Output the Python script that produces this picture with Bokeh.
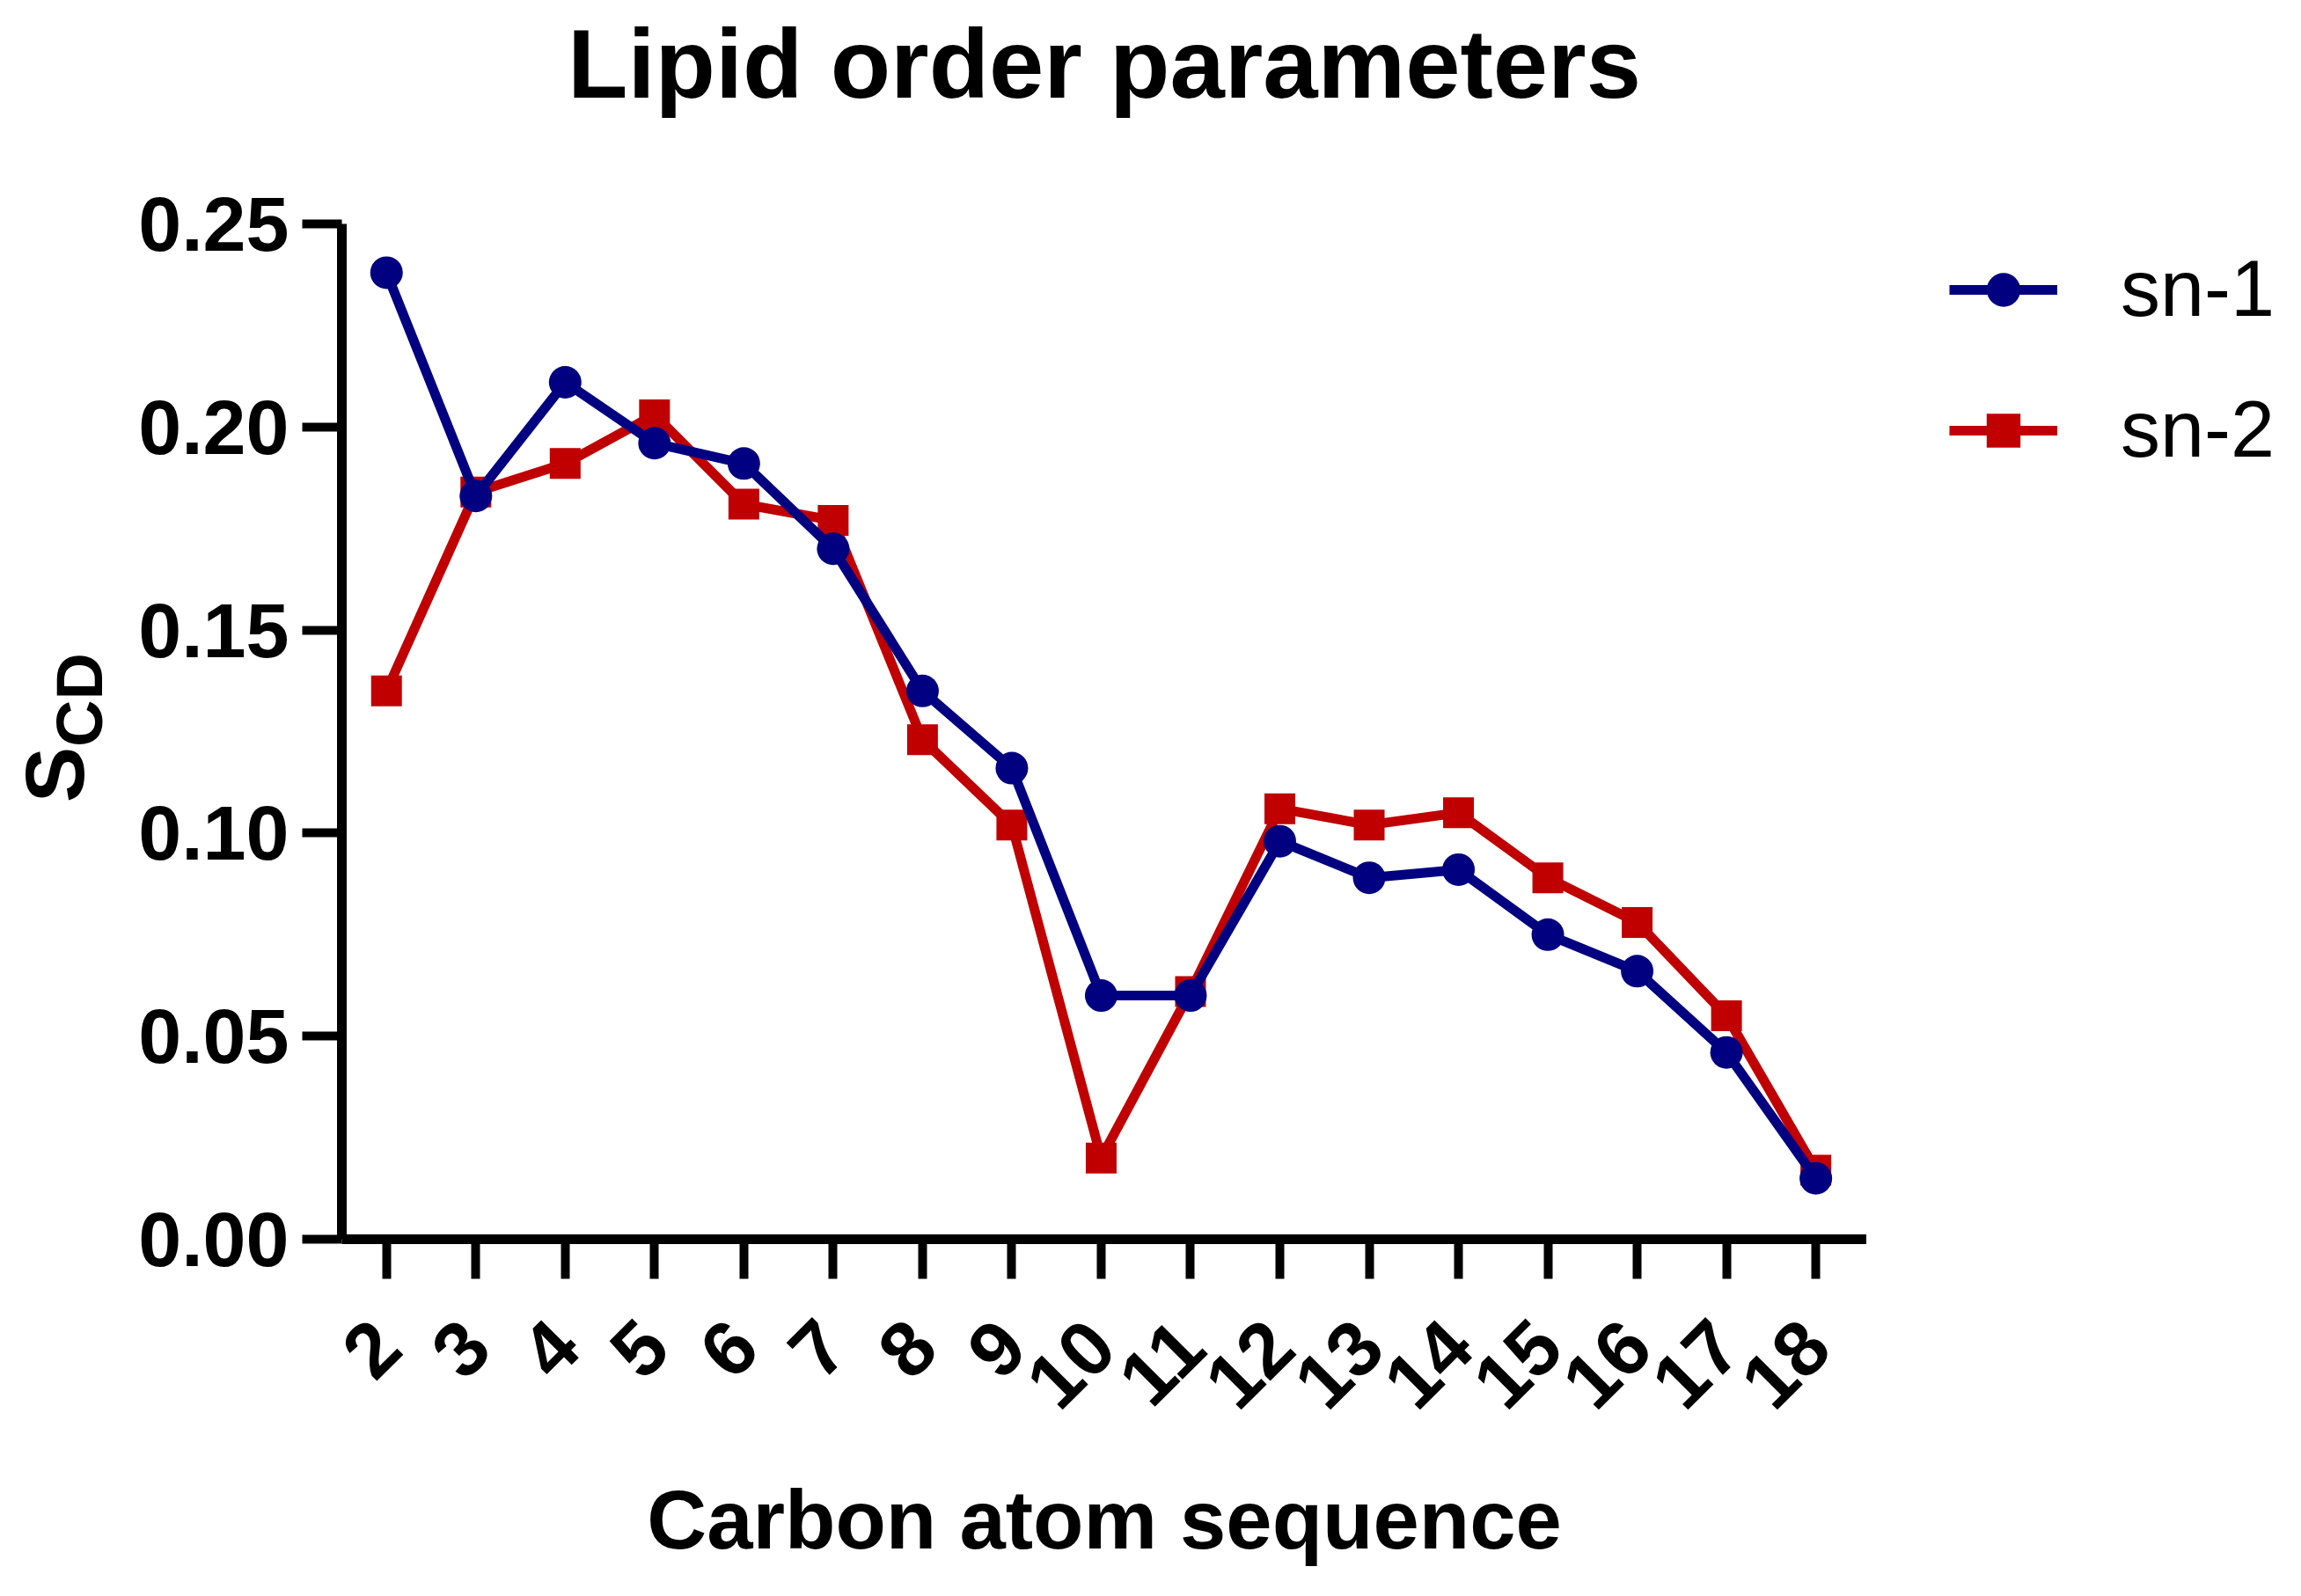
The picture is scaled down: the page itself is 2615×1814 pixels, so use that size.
import math
from bokeh.plotting import figure
from bokeh.layouts import row
from bokeh.models import (ColumnDataSource, FixedTicker, Legend, LegendItem,
                          Label, Range1d)
from bokeh.core.properties import value
from bokeh.embed import file_html
from bokeh.resources import INLINE

# ---------------- data ----------------
carbons = [2, 3, 4, 5, 6, 7, 8, 9, 10, 11, 12, 13, 14, 15, 16, 17, 18]
sn1 = [0.238, 0.183, 0.211, 0.196, 0.191, 0.170, 0.135, 0.116, 0.060, 0.060,
       0.098, 0.089, 0.091, 0.075, 0.066, 0.046, 0.015]
sn2 = [0.135, 0.184, 0.191, 0.203, 0.181, 0.177, 0.123, 0.102, 0.020, 0.061,
       0.106, 0.102, 0.105, 0.089, 0.078, 0.055, 0.017]
y_ticks = [0.0, 0.05, 0.10, 0.15, 0.20, 0.25]
y_tick_labels = ["0.00", "0.05", "0.10", "0.15", "0.20", "0.25"]
series_names = ["sn-1", "sn-2"]
title_text = "Lipid order parameters"
x_label = "Carbon atom sequence"
y_label_main = "S"
y_label_sub = "CD"

BLUE = "#000080"
RED = "#C00000"
FONT = "Liberation Sans"

# ---------------- geometry (page pixels) ----------------
TOTAL_W, H = 2615, 1814
X_AX = (1.5, 18.57)      # visible x-axis extent
Y_AX = (0.0, 0.25)       # visible y-axis extent
PX_PER_X = 101.52
PX_PER_Y = 4616.0
WL = 150                 # left strip (y-axis title)
BORDER_L = 238           # frame left at 388
BORDER_B = 406           # frame bottom at 1408
frame_w = round((X_AX[1] - X_AX[0]) * PX_PER_X)
WM = BORDER_L + frame_w
WR = TOTAL_W - WL - WM   # right strip (legend)
frame_h = H - BORDER_B
y_end = frame_h / PX_PER_Y


def strip(width, yr=None):
    f = figure(width=width, height=H, output_backend="svg",
               toolbar_location=None,
               x_range=Range1d(0, width),
               y_range=yr if yr is not None else Range1d(0, frame_h),
               x_axis_type=None, y_axis_type=None,
               min_border_left=0, min_border_right=0,
               min_border_top=0, min_border_bottom=BORDER_B)
    f.outline_line_color = None
    f.background_fill_color = "white"
    f.border_fill_color = "white"
    return f


# ---------------- left strip: S with subscript CD ----------------
pl = strip(WL)
pl.text(x=[61], y=[frame_h - 880], text=[y_label_main], angle=math.pi / 2,
        text_align="center", text_baseline="middle",
        text_font=value(FONT), text_font_style="bold",
        text_font_size=value("95px"), text_color="black")
pl.text(x=[90], y=[frame_h - 795], text=[y_label_sub], angle=math.pi / 2,
        text_align="center", text_baseline="middle",
        text_font=value(FONT), text_font_style="bold",
        text_font_size=value("74px"), text_color="black")

# ---------------- main plot ----------------
p = figure(width=WM, height=H, output_backend="svg", toolbar_location=None,
           x_range=Range1d(X_AX[0], X_AX[1]), y_range=Range1d(0, y_end),
           min_border_left=BORDER_L, min_border_right=0,
           min_border_top=0, min_border_bottom=BORDER_B)
p.background_fill_color = "white"
p.border_fill_color = "white"
p.outline_line_color = None
p.grid.visible = False

src1 = ColumnDataSource(dict(x=carbons, y=sn1))
src2 = ColumnDataSource(dict(x=carbons, y=sn2))

LW = 11
l2 = p.line("x", "y", source=src2, line_color=RED, line_width=LW)
m2 = p.scatter("x", "y", source=src2, marker="square", size=35,
               fill_color=RED, line_color=RED, line_width=0)
l1 = p.line("x", "y", source=src1, line_color=BLUE, line_width=LW)
m1 = p.scatter("x", "y", source=src1, marker="circle", size=37,
               fill_color=BLUE, line_color=BLUE, line_width=0)

for ax in (p.xaxis[0], p.yaxis[0]):
    ax.axis_line_width = 11
    ax.axis_line_color = "black"
    ax.major_tick_line_width = 10
    ax.major_tick_line_color = "black"
    ax.major_tick_out = 45
    ax.major_tick_in = 0
    ax.minor_tick_line_color = None
    ax.major_label_text_font = FONT
    ax.major_label_text_font_style = "bold"
    ax.major_label_text_font_size = "88px"
    ax.major_label_text_color = "black"

p.xaxis.bounds = X_AX
p.xaxis.ticker = FixedTicker(ticks=carbons)
p.xaxis.major_label_orientation = math.pi / 4
p.xaxis.major_label_standoff = 62
p.xaxis.axis_label = x_label
p.xaxis.axis_label_text_font = FONT
p.xaxis.axis_label_text_font_style = "bold"
p.xaxis.axis_label_text_font_size = "94px"
p.xaxis.axis_label_text_color = "black"
p.xaxis.axis_label_standoff = 44

p.yaxis.bounds = Y_AX
p.yaxis.ticker = FixedTicker(ticks=y_ticks)
p.yaxis.major_label_overrides = {t: s for t, s in zip(y_ticks, y_tick_labels)}
p.yaxis.major_label_standoff = 15

# chart title, in the white band above the axes
title = Label(x=(X_AX[0] + X_AX[1]) / 2, y=(frame_h - 72) / PX_PER_Y,
              text=title_text, text_align="center", text_baseline="middle",
              text_font=FONT, text_font_style="bold", text_font_size="112px",
              text_color="black")
p.add_layout(title)

# ---------------- right strip: legend ----------------
# The legend needs renderers in its own plot; these reuse the series data
# but the strip's y-range lies far above the data, so they stay off-canvas.
pr = strip(WR, yr=Range1d(100, 101))
lg1 = pr.line("x", "y", source=src1, line_color=BLUE, line_width=LW)
mg1 = pr.scatter("x", "y", source=src1, marker="circle", fill_color=BLUE,
                 line_color=BLUE, line_width=0)
lg2 = pr.line("x", "y", source=src2, line_color=RED, line_width=LW)
mg2 = pr.scatter("x", "y", source=src2, marker="square", fill_color=RED,
                 line_color=RED, line_width=0)
legend = Legend(items=[LegendItem(label=series_names[0], renderers=[lg1, mg1]),
                       LegendItem(label=series_names[1], renderers=[lg2, mg2])],
                location=(94, frame_h - 282 - 258), orientation="vertical")
legend.border_line_color = None
legend.background_fill_alpha = 0
legend.margin = 0
legend.padding = 0
legend.glyph_width = 123
legend.glyph_height = 96
legend.label_height = 100
legend.spacing = 57
legend.label_standoff = 72
legend.label_text_font = FONT
legend.label_text_font_size = "90px"
legend.label_text_color = "black"
pr.add_layout(legend)

layout = row(pl, p, pr, spacing=0)
open("out.html", "w").write(file_html(layout, INLINE))
